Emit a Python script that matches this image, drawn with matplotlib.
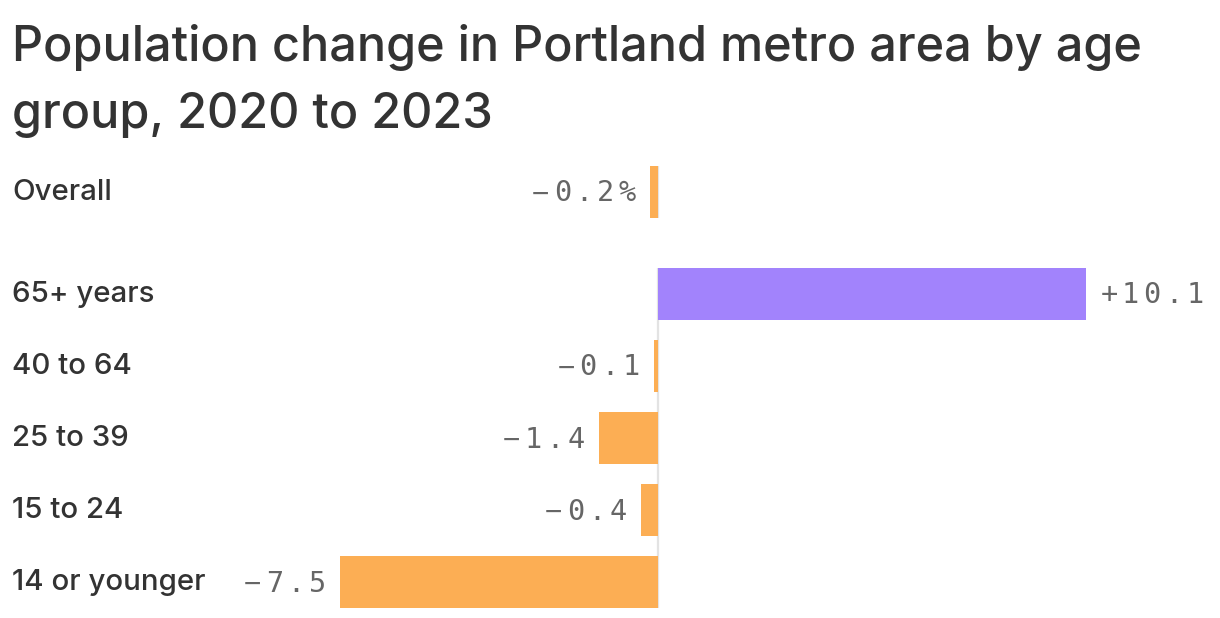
import matplotlib
matplotlib.use("Agg")
import matplotlib.pyplot as plt
import matplotlib.transforms as mtransforms

# ---- data ----
title_lines = ["Population change in Portland metro area by age", "group, 2020 to 2023"]
overall_label = "Overall"
overall_value = -0.2
age_groups = ["65+ years", "40 to 64", "25 to 39", "15 to 24", "14 or younger"]
age_values = [10.1, -0.1, -1.4, -0.4, -7.5]

# ---- style ----
ORANGE = "#FCAE54"
PURPLE = "#A283FC"
TEXT = "#333333"
VAL = "#666666"
ZERO = "#e3e3e3"

W, H = 1220, 618
fig = plt.figure(figsize=(W / 100, H / 100), dpi=100)
ax = fig.add_axes([0, 0, 1, 1])
ax.axis("off")

px_x = 42.4          # pixels per unit of x
zero_px = 658
row_px = 72          # pixels between rows
first_row_px = 294   # pixel center of first age row
ax.set_xlim(-zero_px / px_x, (W - zero_px) / px_x)
ax.set_ylim((H - first_row_px) / row_px, -first_row_px / row_px)

bar_h = 52 / row_px
overall_gap = 102 / row_px

ys_age = list(range(len(age_groups)))
y_overall = -overall_gap

# zero lines
ax.vlines(0, y_overall - bar_h / 2, y_overall + bar_h / 2, color=ZERO, lw=1.6, zorder=1)
ax.vlines(0, ys_age[0] - bar_h / 2, ys_age[-1] + bar_h / 2, color=ZERO, lw=1.6, zorder=1)

# bars
def color_for(v):
    return PURPLE if v > 0 else ORANGE

ax.barh([y_overall], [overall_value], height=bar_h, color=ORANGE, zorder=2)
ax.barh(ys_age, age_values, height=bar_h, color=[color_for(v) for v in age_values], zorder=2)

# category labels
lab_tr = mtransforms.blended_transform_factory(fig.transFigure, ax.transData)
def cat_label(y, s):
    t = lab_tr + mtransforms.ScaledTranslation(0, -8 / 100, fig.dpi_scale_trans)
    ax.text(12 / W, y, s, transform=t, ha="left", va="baseline",
            fontsize=21.2, color=TEXT, family="Inter", fontweight="medium")

cat_label(y_overall, overall_label)
for y, s in zip(ys_age, age_groups):
    cat_label(y, s)

# value labels, monospace with tracking
ADV = 21.5
GAP = 12
def val_label(x, y, s):
    total = len(s) * ADV
    start = GAP if x >= 0 else -GAP - total
    for i, ch in enumerate(s):
        off = start + (i + 0.5) * ADV
        t = ax.transData + mtransforms.ScaledTranslation(off / 100, -9.5 / 100, fig.dpi_scale_trans)
        ax.text(x, y, ch, transform=t, ha="center", va="baseline",
                fontsize=20.5, color=VAL, family="DejaVu Sans Mono")

def fmt(v, pct=False):
    sign = "+" if v > 0 else "\u2212"
    return f"{sign}{abs(v):.1f}" + ("%" if pct else "")

val_label(overall_value, y_overall, fmt(overall_value, True))
for y, v in zip(ys_age, age_values):
    val_label(v, y, fmt(v))

# title
for line, base_px in zip(title_lines, [61, 128]):
    fig.text(12 / W, 1 - base_px / H, line, ha="left", va="baseline",
             fontsize=35.0, color=TEXT, family="Inter", fontweight="medium")

fig.savefig("out.png", dpi=100)
